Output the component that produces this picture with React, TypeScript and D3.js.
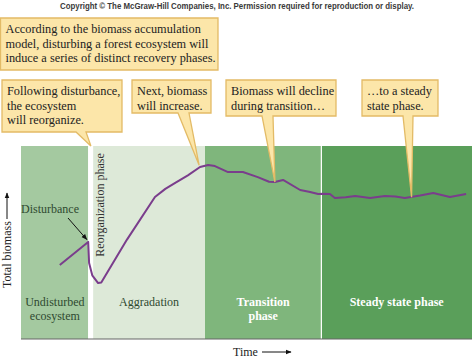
import React, { useEffect, useRef } from 'react';
import * as d3 from 'd3';

// phases along the time axis (time 0..100)
const phaseNames = ['Undisturbed', 'Reorganization', 'Aggradation', 'Transition', 'Steady'];
const phaseStart = [0, 14.9, 16, 40.8, 66.6];
const phaseEnd = [14.9, 16, 40.8, 66.6, 100];
const phaseColors = ['#a4c9a0', '#ffffff', '#dde9d8', '#7fb67c', '#5a9f5a'];

// total biomass curve (0..100)
const curveTime = [8.6, 14.9, 15.1, 15.8, 17.1, 17.8, 23.5, 29.7, 32.0, 34.1, 37.0, 39.7, 41.5, 43.0, 45.9, 49.2, 52.5, 55.0, 56.3, 58.1, 61.9, 64.1, 65.9, 67.0, 68.5, 69.6, 72.0, 74.1, 77.4, 80.7, 83.0, 85.1, 88.5, 91.4, 95.1, 98.7];
const curveBiomass = [38.3, 50.3, 39.4, 33.0, 29.0, 29.3, 51.5, 73.6, 77.8, 80.8, 84.8, 89.1, 90.2, 89.6, 86.5, 86.5, 83.9, 81.5, 81.3, 82.4, 77.2, 76.2, 75.1, 75.3, 75.1, 73.1, 73.4, 74.1, 73.1, 74.1, 73.8, 73.1, 74.3, 75.6, 73.6, 75.1];

// callouts: box + tail target
const calloutLines = [
  ['According to the biomass accumulation', 'model, disturbing a forest ecosystem will', 'induce a series of distinct recovery phases.'],
  ['Following disturbance,', 'the ecosystem', 'will reorganize.'],
  ['Next, biomass', 'will increase.'],
  ['Biomass will decline', 'during transition…'],
  ['…to a steady', 'state phase.'],
];
const calloutTipTime = [null, 15.5, 39.5, 56.3, 86.6];
const calloutTipBiomass = [null, 100, 90, 81.3, 73.5];

const bottomLabels = [['Undisturbed', 'ecosystem'], ['Aggradation'], ['Transition', 'phase'], ['Steady state phase']];
const bottomLabelTime = [7.5, 28.4, 53.7, 83.3];

function App() {
  const ref = useRef(null);

  useEffect(() => {
    const svg = d3.select(ref.current);
    svg.selectAll('*').remove();
    const serif = '"Liberation Serif", "Times New Roman", serif';

    const x = d3.scaleLinear().domain([0, 100]).range([21, 472]);
    const y = d3.scaleLinear().domain([0, 100]).range([339, 146]);

    svg.append('defs').append('marker')
      .attr('id', 'ah').attr('viewBox', '0 0 10 10').attr('refX', 9).attr('refY', 5)
      .attr('markerWidth', 6).attr('markerHeight', 6).attr('orient', 'auto')
      .append('path').attr('d', 'M0,1 L10,5 L0,9 Z').attr('fill', '#111');

    svg.append('text').attr('x', 237).attr('y', 9).attr('text-anchor', 'middle')
      .attr('font-family', 'Arial, "Liberation Sans", sans-serif').attr('font-size', 8.4)
      .attr('fill', '#3a3a3a').attr('font-weight', 'bold').attr('textLength', 354)
      .attr('lengthAdjust', 'spacingAndGlyphs')
      .text('Copyright © The McGraw-Hill Companies, Inc. Permission required for reproduction or display.');

    // phase bands
    svg.selectAll('.band').data(phaseNames).enter().append('rect')
      .attr('x', (d, i) => x(phaseStart[i])).attr('y', y(100))
      .attr('width', (d, i) => x(phaseEnd[i]) - x(phaseStart[i]))
      .attr('height', y(0) - y(100))
      .attr('fill', (d, i) => phaseColors[i]);
    svg.append('line').attr('x1', x(66.6)).attr('x2', x(66.6)).attr('y1', y(100)).attr('y2', y(0))
      .attr('stroke', '#fff').attr('stroke-width', 1.2);
    svg.append('line').attr('x1', x(0)).attr('x2', x(100)).attr('y1', y(0)).attr('y2', y(0))
      .attr('stroke', '#666').attr('stroke-width', 1.2);

    // bottom labels
    bottomLabels.forEach((lines, i) => {
      const light = i >= 2;
      lines.forEach((t, j) => {
        svg.append('text').attr('x', x(bottomLabelTime[i])).attr('y', 306 + j * 14)
          .attr('text-anchor', 'middle').attr('font-family', serif).attr('font-size', 12)
          .attr('font-weight', light ? 'bold' : 'normal')
          .attr('fill', light ? '#ffffff' : '#2f4a30').text(t);
      });
    });

    svg.append('text').attr('transform', `translate(${x(18.5)},205) rotate(-90)`)
      .attr('text-anchor', 'middle').attr('font-family', serif).attr('font-size', 12)
      .attr('fill', '#333').text('Reorganization phase');

    svg.append('text').attr('x', 50).attr('y', 213).attr('text-anchor', 'middle')
      .attr('font-family', serif).attr('font-size', 12).attr('fill', '#2f4a30').text('Disturbance');
    svg.append('line').attr('x1', 68).attr('y1', 218).attr('x2', x(14.6)).attr('y2', y(51.5))
      .attr('stroke', '#111').attr('stroke-width', 1).attr('marker-end', 'url(#ah)');

    // biomass curve
    const line = d3.line().x((d) => x(d[0])).y((d) => y(d[1])).curve(d3.curveLinear);
    svg.append('path').datum(curveTime.map((t, i) => [t, curveBiomass[i]]))
      .attr('d', line).attr('fill', 'none').attr('stroke', '#7a3d8c').attr('stroke-width', 2)
      .attr('stroke-linejoin', 'round');

    // axis labels
    svg.append('text').attr('transform', 'translate(11,288) rotate(-90)')
      .attr('font-family', serif).attr('font-size', 12).attr('fill', '#222').text('Total biomass');
    svg.append('line').attr('x1', 7).attr('x2', 7).attr('y1', 219).attr('y2', 193)
      .attr('stroke', '#111').attr('stroke-width', 1).attr('marker-end', 'url(#ah)');
    svg.append('text').attr('x', 233).attr('y', 356)
      .attr('font-family', serif).attr('font-size', 12).attr('fill', '#222').text('Time');
    svg.append('line').attr('x1', 262).attr('x2', 291).attr('y1', 352).attr('y2', 352)
      .attr('stroke', '#111').attr('stroke-width', 1).attr('marker-end', 'url(#ah)');

    // callouts
    const boxes = [
      { x0: 0.5, x1: 218, y0: 18, y1: 70, bl: 0, br: 0 },
      { x0: 2, x1: 122, y0: 80, y1: 132, bl: 76, br: 86 },
      { x0: 132, x1: 211, y0: 80, y1: 113, bl: 178, br: 189 },
      { x0: 226, x1: 336, y0: 80, y1: 116, bl: 262, br: 273 },
      { x0: 362, x1: 438, y0: 80, y1: 116, bl: 403, br: 413 },
    ];
    boxes.forEach((b, i) => {
      let d;
      if (calloutTipTime[i] === null) {
        d = `M${b.x0},${b.y0}H${b.x1}V${b.y1}H${b.x0}Z`;
      } else {
        const tx = x(calloutTipTime[i]);
        const ty = y(calloutTipBiomass[i]);
        d = `M${b.x0},${b.y0}H${b.x1}V${b.y1}H${b.br}L${tx},${ty}L${b.bl},${b.y1}H${b.x0}Z`;
      }
      svg.append('path').attr('d', d).attr('fill', '#fce6a9').attr('stroke', '#e3bb66').attr('stroke-width', 1.3);
      calloutLines[i].forEach((t, j) => {
        svg.append('text').attr('x', b.x0 + 5).attr('y', b.y0 + 15 + j * 14.5)
          .attr('font-family', serif).attr('font-size', 12.3).attr('fill', '#222').text(t);
      });
    });
  }, []);

  return (
    <svg ref={ref} width={474} height={359} style={{ position: 'absolute', left: 0, top: 0, background: '#fff' }}></svg>
  );
}

export default App;
